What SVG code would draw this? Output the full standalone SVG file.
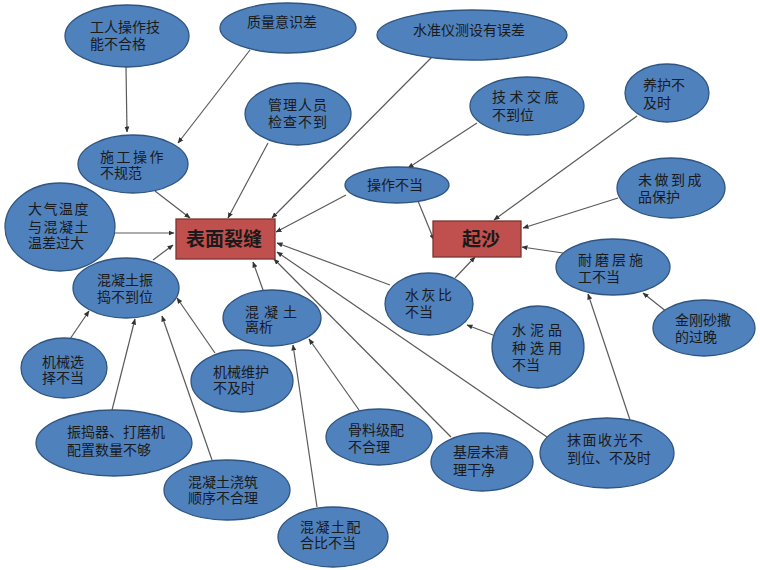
<svg xmlns="http://www.w3.org/2000/svg" width="760" height="570" viewBox="0 0 760 570">
<defs>
<marker id="ah" viewBox="0 0 6 6" refX="5.5" refY="3" markerWidth="6" markerHeight="6" markerUnits="userSpaceOnUse" orient="auto">
<path d="M0,0.5 L6,3 L0,5.5 z" fill="#333"/>
</marker>
<style>
.e{fill:#4f81bd;stroke:#2f5580;stroke-width:1.3}
.r{fill:#c0504d;stroke:#7a3432;stroke-width:1.3}
.t{font-family:"Liberation Sans","Noto Sans CJK SC",sans-serif;font-size:14px;fill:#1a1a1a}
.b{font-family:"Liberation Sans","Noto Sans CJK SC",sans-serif;font-size:19px;font-weight:bold;fill:#1a1a1a;text-anchor:middle}
.c line{stroke:#5a5a5a;stroke-width:1.2;marker-end:url(#ah)}
</style>
</defs>
<rect width="760" height="570" fill="#fff"/>
<g class="c" id="connectors">
<line x1="126" y1="67" x2="127" y2="132"/>
<line x1="250" y1="50" x2="178" y2="143"/>
<line x1="155" y1="191" x2="190" y2="218"/>
<line x1="268" y1="143" x2="228" y2="218"/>
<line x1="432" y1="57" x2="272" y2="218"/>
<line x1="346" y1="195" x2="276" y2="232"/>
<line x1="115" y1="233" x2="174" y2="233"/>
<line x1="153" y1="260" x2="173" y2="245"/>
<line x1="70" y1="339" x2="89" y2="311"/>
<line x1="112" y1="410" x2="135" y2="319"/>
<line x1="212" y1="460" x2="162" y2="316"/>
<line x1="215" y1="353" x2="177" y2="298"/>
<line x1="263" y1="290" x2="253" y2="262"/>
<line x1="317" y1="507" x2="293" y2="345"/>
<line x1="359" y1="410" x2="309" y2="339"/>
<line x1="451" y1="437" x2="274" y2="259"/>
<line x1="547" y1="437" x2="277" y2="252"/>
<line x1="390" y1="285" x2="277" y2="243"/>
<line x1="477" y1="123" x2="408" y2="168"/>
<line x1="418" y1="201" x2="434" y2="240"/>
<line x1="637" y1="116" x2="494" y2="220"/>
<line x1="618" y1="198" x2="523" y2="228"/>
<line x1="563" y1="253" x2="522" y2="247"/>
<line x1="667" y1="312" x2="643" y2="293"/>
<line x1="630" y1="420" x2="588" y2="294"/>
<line x1="455" y1="278" x2="475" y2="257"/>
<line x1="493" y1="335" x2="467" y2="325"/>
</g>
<g id="n1"><ellipse class="e" cx="127" cy="36" rx="62" ry="31"/><text class="t" x="90" y="32">工人操作技</text><text class="t" x="90" y="49">能不合格</text></g>
<g id="n2"><ellipse class="e" cx="288" cy="28" rx="68" ry="25"/><text class="t" x="247" y="27">质量意识差</text></g>
<g id="n3"><ellipse class="e" cx="298" cy="114" rx="53" ry="31"/><text class="t" x="268" y="110" letter-spacing="1">管理人员</text><text class="t" x="268" y="127" letter-spacing="1">检查不到</text></g>
<g id="n4"><ellipse class="e" cx="133" cy="164" rx="55" ry="29"/><text class="t" x="100" y="162" letter-spacing="2.5">施工操作</text><text class="t" x="100" y="178">不规范</text></g>
<g id="n5"><ellipse class="e" cx="472" cy="35" rx="95" ry="25"/><text class="t" x="413" y="35">水准仪测设有误差</text></g>
<g id="n6"><ellipse class="e" cx="527" cy="106" rx="57" ry="29"/><text class="t" x="492" y="102" letter-spacing="3.5">技术交底</text><text class="t" x="492" y="120">不到位</text></g>
<g id="n7"><ellipse class="e" cx="667" cy="93" rx="42" ry="29"/><text class="t" x="643" y="90">养护不</text><text class="t" x="643" y="108">及时</text></g>
<g id="n8"><ellipse class="e" cx="397" cy="185" rx="52" ry="18"/><text class="t" x="367" y="190">操作不当</text></g>
<g id="n9"><ellipse class="e" cx="671" cy="188" rx="54" ry="30"/><text class="t" x="638" y="185" letter-spacing="2.5">未做到成</text><text class="t" x="638" y="202">品保护</text></g>
<g id="n10"><ellipse class="e" cx="60" cy="227" rx="55" ry="44"/><text class="t" x="28" y="214" letter-spacing="1.5">大气温度</text><text class="t" x="28" y="232" letter-spacing="1.5">与混凝土</text><text class="t" x="28" y="248">温差过大</text></g>
<g id="n11"><rect class="r" x="176" y="219" width="99" height="40"/><text class="b" x="224" y="246">表面裂缝</text></g>
<g id="n12"><rect class="r" x="433" y="221" width="88" height="36"/><text class="b" x="481" y="246">起沙</text></g>
<g id="n13"><ellipse class="e" cx="126" cy="288" rx="53" ry="30"/><text class="t" x="97" y="285">混凝土振</text><text class="t" x="97" y="302">捣不到位</text></g>
<g id="n14"><ellipse class="e" cx="272" cy="318" rx="49" ry="28"/><text class="t" x="245" y="317" letter-spacing="5">混凝土</text><text class="t" x="245" y="332">离析</text></g>
<g id="n15"><ellipse class="e" cx="429" cy="304" rx="44" ry="31"/><text class="t" x="405" y="300" letter-spacing="2.5">水灰比</text><text class="t" x="405" y="317">不当</text></g>
<g id="n16"><ellipse class="e" cx="613" cy="267" rx="57" ry="28"/><text class="t" x="578" y="265" letter-spacing="3">耐磨层施</text><text class="t" x="578" y="282">工不当</text></g>
<g id="n17"><ellipse class="e" cx="704" cy="328" rx="51" ry="28"/><text class="t" x="675" y="325">金刚砂撒</text><text class="t" x="675" y="342">的过晚</text></g>
<g id="n18"><ellipse class="e" cx="538" cy="347" rx="46" ry="41"/><text class="t" x="512" y="335" letter-spacing="4">水泥品</text><text class="t" x="512" y="353" letter-spacing="4">种选用</text><text class="t" x="512" y="370">不当</text></g>
<g id="n19"><ellipse class="e" cx="64" cy="368" rx="43" ry="30"/><text class="t" x="42" y="367">机械选</text><text class="t" x="42" y="383">择不当</text></g>
<g id="n20"><ellipse class="e" cx="242" cy="381" rx="51" ry="31"/><text class="t" x="213" y="377">机械维护</text><text class="t" x="213" y="393">不及时</text></g>
<g id="n21"><ellipse class="e" cx="114" cy="443" rx="78" ry="33"/><text class="t" x="67" y="437">振捣器、打磨机</text><text class="t" x="67" y="455">配置数量不够</text></g>
<g id="n22"><ellipse class="e" cx="227" cy="490" rx="63" ry="30"/><text class="t" x="188" y="487">混凝土浇筑</text><text class="t" x="188" y="503">顺序不合理</text></g>
<g id="n23"><ellipse class="e" cx="333" cy="537" rx="55" ry="30"/><text class="t" x="300" y="532" letter-spacing="1.5">混凝土配</text><text class="t" x="300" y="548">合比不当</text></g>
<g id="n24"><ellipse class="e" cx="379" cy="437" rx="53" ry="28"/><text class="t" x="348" y="435">骨料级配</text><text class="t" x="348" y="452">不合理</text></g>
<g id="n25"><ellipse class="e" cx="482" cy="462" rx="51" ry="29"/><text class="t" x="453" y="457">基层未清</text><text class="t" x="453" y="475">理干净</text></g>
<g id="n26"><ellipse class="e" cx="607" cy="453" rx="67" ry="35"/><text class="t" x="567" y="445" letter-spacing="1.5">抹面收光不</text><text class="t" x="567" y="463">到位、不及时</text></g>
</svg>
